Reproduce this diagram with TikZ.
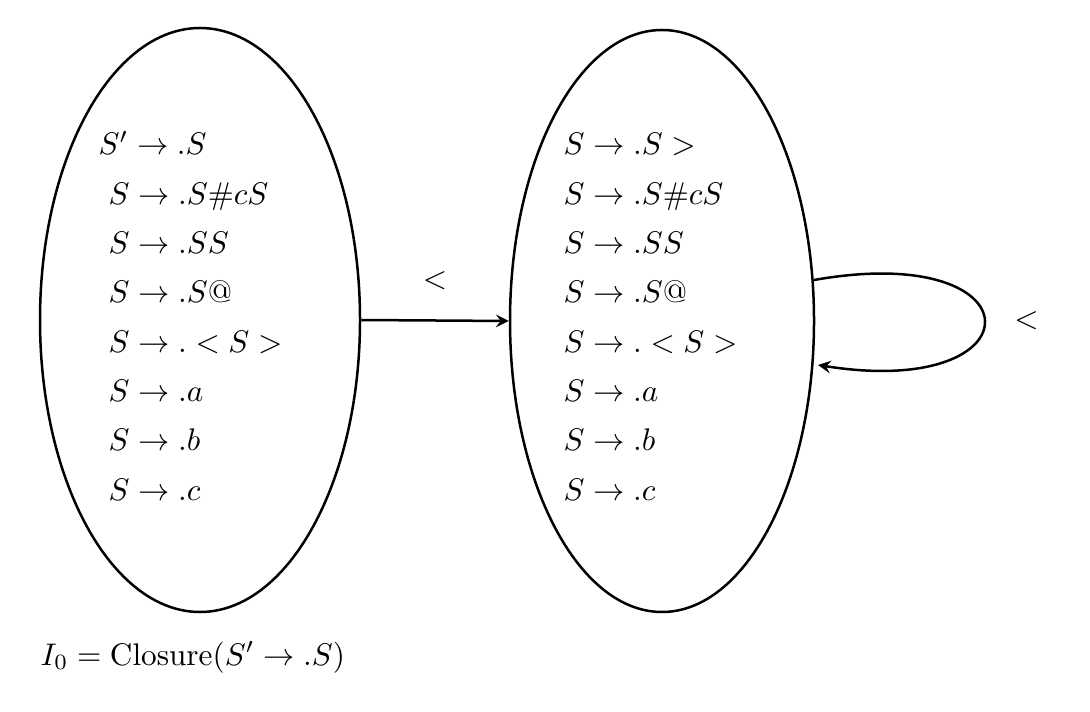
\documentclass[tikz,border=0pt]{standalone}
\usetikzlibrary{shapes.geometric}
\begin{document}
\begin{tikzpicture}[x=0.32pt,y=-0.32pt,
  st/.style={draw,ellipse,line width=0.8pt,inner sep=0pt},
  lbl/.style={anchor=base west,inner sep=0pt},
  arr/.style={->,line width=0.8pt,>=stealth}]
\useasboundingbox (0,0) rectangle (1090,712);
\node[st,minimum width=320*0.32pt,minimum height=584*0.32pt] (L) at (200,320) {};
\node[st,minimum width=304*0.32pt,minimum height=582*0.32pt] (R) at (662,321) {};
\node[lbl] (l1) at (98,155) {$S'\rightarrow .S$};
\foreach \t [count=\i] in {{S\rightarrow .S\#cS},{S\rightarrow .SS},{S\rightarrow .S@},{S\rightarrow .<S>},{S\rightarrow .a},{S\rightarrow .b},{S\rightarrow .c}}
  \node[lbl] (l\i x) at (108,155+49.3*\i) {$\t$};
\foreach \t [count=\i from 0] in {{S\rightarrow .S>},{S\rightarrow .S\#cS},{S\rightarrow .SS},{S\rightarrow .S@},{S\rightarrow .<S>},{S\rightarrow .a},{S\rightarrow .b},{S\rightarrow .c}}
  \node[lbl] (r\i) at (563,155+49.3*\i) {$\t$};
\draw[arr] (L.east) -- node[above=6pt] (lt) {$<$} (R.west);
\coordinate (a) at (814,280);
\coordinate (b) at (818,365);
\draw[arr] (a) .. controls (1040,240) and (1040,400) .. node[right=6pt] (lp) {$<$} (b);
\node[lbl] (cap) at (40,665) {$I_0=\mathrm{Closure}(S'\rightarrow .S)$};
\end{tikzpicture}
\end{document}
